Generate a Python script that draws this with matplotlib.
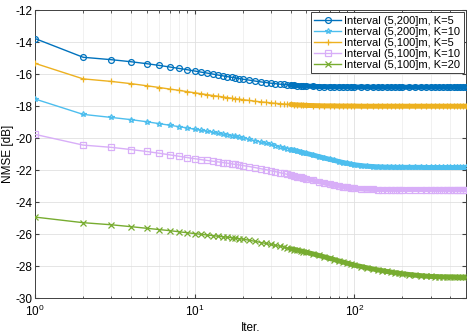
import numpy as np
import matplotlib.pyplot as plt

plt.rcParams['font.family'] = ['Liberation Sans', 'DejaVu Sans']
plt.rcParams['axes.unicode_minus'] = False

iters = [1, 2, 3, 4, 5, 6, 7, 8, 9, 10, 11, 12, 13, 14, 15, 16, 17, 18, 19, 20,
         22, 24, 26, 28, 30, 32, 34, 36, 38, 40, 42, 44, 46, 48, 50,
         55, 60, 65, 70, 75, 80, 85, 90, 95, 100,
         110, 120, 130, 140, 150, 160, 170, 180, 190, 200,
         220, 240, 260, 280, 300, 320, 340, 360, 380, 400, 420, 440, 460, 480, 500]

nmse_200_k5 = [-13.78, -14.95, -15.10, -15.23, -15.35, -15.46, -15.56, -15.65, -15.73, -15.81,
               -15.88, -15.94, -16.00, -16.06, -16.11, -16.16, -16.20, -16.24, -16.28, -16.32,
               -16.38, -16.44, -16.49, -16.53, -16.57, -16.60, -16.63, -16.65, -16.67, -16.69,
               -16.70, -16.72, -16.73, -16.74, -16.75,
               -16.77, -16.78, -16.79, -16.79, -16.80, -16.80, -16.80, -16.80, -16.81, -16.81,
               -16.81, -16.81, -16.82, -16.82, -16.82, -16.82, -16.82, -16.82, -16.82, -16.82,
               -16.82, -16.82, -16.82, -16.82, -16.82, -16.82, -16.82, -16.82, -16.82, -16.82,
               -16.82, -16.82, -16.82, -16.82, -16.82]

nmse_200_k10 = [-17.56, -18.52, -18.71, -18.85, -18.98, -19.10, -19.20, -19.29, -19.37, -19.45,
                -19.52, -19.58, -19.64, -19.70, -19.75, -19.80, -19.85, -19.90, -19.95, -19.99,
                -20.08, -20.17, -20.25, -20.33, -20.40, -20.47, -20.54, -20.60, -20.66, -20.72,
                -20.77, -20.82, -20.87, -20.92, -20.96,
                -21.06, -21.16, -21.25, -21.33, -21.40, -21.47, -21.53, -21.58, -21.63, -21.67,
                -21.72, -21.76, -21.78, -21.80, -21.81, -21.82, -21.82, -21.83, -21.83, -21.83,
                -21.83, -21.83, -21.83, -21.84, -21.84, -21.84, -21.84, -21.84, -21.84, -21.84,
                -21.84, -21.84, -21.84, -21.84, -21.84]

nmse_100_k5 = [-15.33, -16.30, -16.46, -16.60, -16.73, -16.84, -16.94, -17.02, -17.10, -17.17,
               -17.23, -17.29, -17.34, -17.39, -17.43, -17.47, -17.51, -17.54, -17.57, -17.60,
               -17.65, -17.70, -17.74, -17.77, -17.80, -17.83, -17.85, -17.87, -17.89, -17.90,
               -17.92, -17.93, -17.94, -17.95, -17.96,
               -17.97, -17.98, -17.99, -17.99, -17.99, -18.00, -18.00, -18.00, -18.00, -18.00,
               -18.01, -18.01, -18.01, -18.01, -18.01, -18.01, -18.01, -18.01, -18.01, -18.01,
               -18.01, -18.01, -18.01, -18.01, -18.01, -18.01, -18.01, -18.01, -18.01, -18.01,
               -18.01, -18.01, -18.01, -18.01, -18.01]

nmse_100_k10 = [-19.77, -20.44, -20.58, -20.72, -20.84, -20.95, -21.05, -21.14, -21.22, -21.29,
                -21.35, -21.40, -21.45, -21.49, -21.53, -21.57, -21.61, -21.65, -21.68, -21.72,
                -21.78, -21.85, -21.92, -21.98, -22.04, -22.10, -22.16, -22.21, -22.27, -22.32,
                -22.37, -22.42, -22.46, -22.50, -22.54,
                -22.64, -22.73, -22.81, -22.89, -22.95, -23.00, -23.05, -23.09, -23.12, -23.15,
                -23.18, -23.20, -23.21, -23.22, -23.22, -23.22, -23.22, -23.22, -23.22, -23.22,
                -23.22, -23.22, -23.22, -23.22, -23.22, -23.22, -23.22, -23.22, -23.22, -23.22,
                -23.22, -23.22, -23.22, -23.22, -23.22]

nmse_100_k20 = [-24.94, -25.29, -25.42, -25.54, -25.64, -25.72, -25.79, -25.86, -25.92, -25.97,
                -26.02, -26.06, -26.10, -26.14, -26.17, -26.20, -26.23, -26.26, -26.29, -26.32,
                -26.39, -26.46, -26.53, -26.59, -26.65, -26.71, -26.76, -26.81, -26.87, -26.92,
                -26.97, -27.01, -27.05, -27.10, -27.14,
                -27.24, -27.34, -27.43, -27.52, -27.60, -27.68, -27.75, -27.82, -27.88, -27.94,
                -28.03, -28.11, -28.18, -28.24, -28.29, -28.34, -28.38, -28.42, -28.45, -28.48,
                -28.53, -28.57, -28.60, -28.63, -28.65, -28.66, -28.67, -28.68, -28.69, -28.69,
                -28.70, -28.70, -28.71, -28.71, -28.71]

labels = ['Interval (5,200]m, K=5', 'Interval (5,200]m, K=10', 'Interval (5,100]m, K=5',
          'Interval (5,100]m, K=10', 'Interval (5,100]m, K=20']
series = [nmse_200_k5, nmse_200_k10, nmse_100_k5, nmse_100_k10, nmse_100_k20]
colors = ['#0072BD', '#4DBEEE', '#EDB120', '#D8AEF8', '#77AC30']
markers = ['o', '*', '+', 's', 'x']

fig = plt.figure(figsize=(4.74, 3.36), dpi=100)
ax = fig.add_axes([0.074, 0.113, 0.909, 0.857])

x = np.array(iters)
tail = x >= 40
for y, lab, c, m in zip(series, labels, colors, markers):
    y = np.array(y)
    # dense markers in the original merge into a thick band
    ax.plot(x[tail], y[tail], color=c, lw=3.6, solid_capstyle='round', zorder=2)
    ax.plot(x, y, color=c, lw=1.0, marker=m, ms=4.2, mfc='none', mew=0.9,
            label=lab, zorder=3)

ax.set_xscale('log')
ax.set_xlim(1, 500)
ax.set_ylim(-30, -12)
ax.set_yticks(np.arange(-30, -11, 2))
ax.set_xlabel('Iter.', fontsize=8.5, labelpad=2)
ax.set_ylabel('NMSE [dB]', fontsize=8.5, labelpad=1)

ax.grid(True, which='major', color='#e0e0e0', lw=0.6)
ax.grid(True, which='minor', axis='x', color='#ececec', lw=0.5)
ax.tick_params(which='both', direction='in', top=True, right=True,
               labelsize=8.5, color='#404040', pad=2)
ax.tick_params(axis='x', which='major', pad=4)
ax.tick_params(which='major', length=3)
ax.tick_params(which='minor', length=1.8)
for s in ax.spines.values():
    s.set_color('#404040')
    s.set_linewidth(0.7)

leg = ax.legend(loc='upper right', fontsize=8, handlelength=2.4, handletextpad=0.3,
                borderpad=0.3, labelspacing=0.1, fancybox=False, framealpha=1,
                borderaxespad=0.2)
leg.get_frame().set_edgecolor('#404040')
leg.get_frame().set_linewidth(0.7)

fig.savefig('out.png', dpi=100)
